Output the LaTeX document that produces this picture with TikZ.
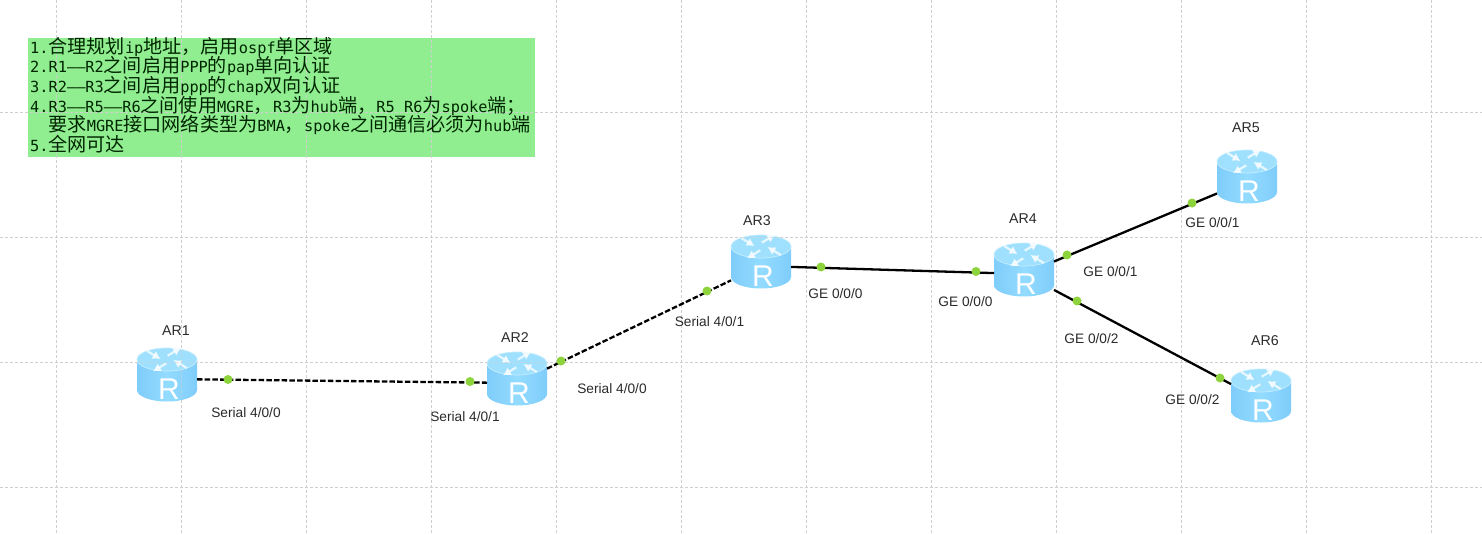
\documentclass[tikz,border=0pt]{standalone}
\usepackage{fontspec}
\usetikzlibrary{arrows.meta}
\setmainfont{Liberation Sans}
\newfontfamily\cjkf{Noto Sans CJK SC}
\newfontfamily\monof{DejaVu Sans Mono}
\newcommand{\zh}[1]{{\cjkf\fontsize{19.1pt}{19.6pt}\selectfont #1}}
\definecolor{dotg}{HTML}{8CD33C}
\definecolor{boxg}{HTML}{90EE90}
\definecolor{gridc}{HTML}{CFCFCF}
\definecolor{labc}{HTML}{2B2B2B}
\definecolor{rside}{HTML}{7FCDFB}
\definecolor{rmid}{HTML}{93DBFF}
\definecolor{rtop}{HTML}{9FE0FE}
\definecolor{rrim}{HTML}{C4EEFF}
\tikzset{
  x=1pt,y=-1pt,
  gridline/.style={gridc,line width=0.8pt,dash pattern=on 3pt off 2pt},
  hub/.style={rectangle,minimum width=60pt,minimum height=62pt,inner sep=0pt,outer sep=0pt},
  lnk/.style={black,line width=2.3pt},
  serlnk/.style={lnk,dash pattern=on 5.5pt off 2.2pt},
  portdot/.style={circle,fill=dotg,minimum size=9pt,inner sep=0pt},
  portlab/.style={font=\fontsize{13.7pt}{15pt}\selectfont,text=labc,inner sep=0pt},
  devlab/.style={font=\fontsize{14.2pt}{16pt}\selectfont,text=labc,inner sep=0pt},
  rarrow/.style={white,opacity=.75,line width=2.2pt,-{Latex[length=8pt,width=9pt]}},
  router/.pic={
    \shade[left color=rside,right color=rside,middle color=rmid]
      (-30,-19.5) -- (-30,11) arc[start angle=180,end angle=0,x radius=30,y radius=11.5] -- (30,-19.5) -- cycle;
    \fill[rtop,draw=rrim,line width=.7pt] (0,-19.5) ellipse[x radius=30,y radius=11.5];
    \begin{scope}[shift={(0,-19.5)},yscale=0.6]
      \foreach \a in {45,225}{
        \draw[rarrow,rotate=\a] (5,-4) -- (24,-4);
      }
      \foreach \a in {135,315}{
        \draw[rarrow,rotate=\a] (24,-4) -- (5,-4);
      }
    \end{scope}
    \node[white,inner sep=0pt,font=\fontsize{30pt}{30pt}\selectfont] at (2,10) {R};
    \node[hub] (-n) at (0,0) {};
  }
}
\begin{document}
\begin{tikzpicture}
\useasboundingbox (0,0) rectangle (1482,535);
\fill[white] (0,0) rectangle (1482,535);
\node[name=task,fill=boxg,inner sep=0pt,minimum width=507pt,minimum height=119pt,anchor=north west] at (28,38) {};
\foreach \x in {56,181,...,1431} \draw[gridline] (\x,0) -- (\x,535);
\foreach \y in {112,237,362,487} \draw[gridline] (0,\y) -- (1482,\y);
\pic (ar1) at (167,379) {router};
\pic (ar2) at (517,383) {router};
\pic (ar3) at (761,266) {router};
\pic (ar4) at (1024,274) {router};
\pic (ar5) at (1247,181) {router};
\pic (ar6) at (1261,400) {router};
\foreach \x in {56,181,...,1431} \draw[gridline,opacity=.6] (\x,0) -- (\x,535);
\foreach \y in {112,237,362,487} \draw[gridline,opacity=.6] (0,\y) -- (1482,\y);
\node[anchor=north west,inner sep=0pt,align=left,text=black!85!green,
  font=\monof\fontsize{15.3pt}{19.6pt}\selectfont] (tasktext) at (30,37) {%
1.\zh{合理规划}ip\zh{地址，启用}ospf\zh{单区域}\\
2.R1——R2\zh{之间启用}PPP\zh{的}pap\zh{单向认证}\\
3.R2——R3\zh{之间启用}ppp\zh{的}chap\zh{双向认证}\\
4.R3——R5——R6\zh{之间使用}MGRE\zh{，}R3\zh{为}hub\zh{端，}R5 R6\zh{为}spoke\zh{端；}\\
\hspace*{18.4pt}\zh{要求}MGRE\zh{接口网络类型为}BMA\zh{，}spoke\zh{之间通信必须为}hub\zh{端}\\
5.\zh{全网可达}};
\draw[serlnk] (ar1-n) -- (ar2-n);
\draw[serlnk] (ar2-n) -- (ar3-n);
\draw[lnk] (ar3-n) -- (ar4-n);
\draw[lnk] (ar4-n) -- (ar5-n);
\draw[lnk] (ar4-n) -- (ar6-n);
\node[portdot] (d1) at (228,379.5) {};
\node[portdot] (d2) at (470,381.5) {};
\node[portdot] (d3) at (561,361) {};
\node[portdot] (d4) at (707,291) {};
\node[portdot] (d5) at (821,267) {};
\node[portdot] (d6) at (976,271.5) {};
\node[portdot] (d7) at (1067,255) {};
\node[portdot] (d8) at (1077,301) {};
\node[portdot] (d9) at (1192,203) {};
\node[portdot] (d10) at (1220,378) {};
\node[portlab] (l1) at (246,413) {Serial 4/0/0};
\node[portlab] (l2) at (465,417) {Serial 4/0/1};
\node[portlab] (l3) at (612,389) {Serial 4/0/0};
\node[portlab] (l4) at (709.5,322) {Serial 4/0/1};
\node[portlab] (l5) at (835.5,294) {GE 0/0/0};
\node[portlab] (l6) at (965.5,302) {GE 0/0/0};
\node[portlab] (l7) at (1110.5,272) {GE 0/0/1};
\node[portlab] (l8) at (1091.5,339) {GE 0/0/2};
\node[portlab] (l9) at (1212.5,223) {GE 0/0/1};
\node[portlab] (l10) at (1192.5,400) {GE 0/0/2};
\node[devlab] (n1) at (176,331) {AR1};
\node[devlab] (n2) at (515,338) {AR2};
\node[devlab] (n3) at (757,221) {AR3};
\node[devlab] (n4) at (1023,219) {AR4};
\node[devlab] (n5) at (1246,128) {AR5};
\node[devlab] (n6) at (1265,341) {AR6};
\end{tikzpicture}
\end{document}
